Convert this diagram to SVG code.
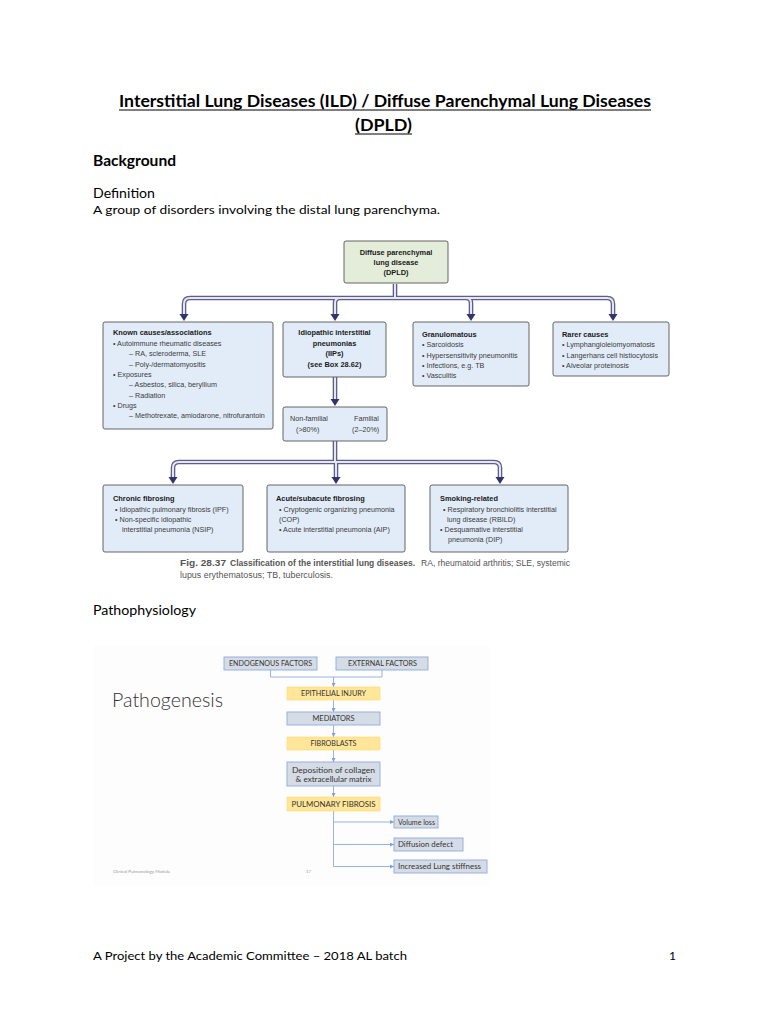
<svg xmlns="http://www.w3.org/2000/svg" width="768" height="1024" viewBox="0 0 768 1024">
<style>
.doc{font-family:Lato,"Open Sans","Liberation Sans",sans-serif;fill:#000}
.bx{fill:#e2ecf8;stroke:#555;stroke-width:0.9}
.dx{fill:#e4edda;stroke:#555;stroke-width:0.9}
.h{font-family:"Liberation Sans",Arial,sans-serif;font-weight:bold;font-size:7.4px;fill:#1a1a1a}
.t{font-family:"Liberation Sans",Arial,sans-serif;font-size:7.2px;fill:#3a3a3a}
.tubeO{fill:none;stroke:#5e5e8c;stroke-width:4.6}
.tubeI{fill:none;stroke:#e6e6f0;stroke-width:2}
.ah{fill:#33336e}
.cap{font-family:"Liberation Sans",Arial,sans-serif;font-size:8.5px;fill:#555}
.sg{fill:#d6dce5;stroke:#8eaadb;stroke-width:0.9}
.sy{fill:#ffe699;stroke:#ffd966;stroke-width:0.6}
.st{font-family:Lato,"Open Sans","Liberation Sans",sans-serif;font-size:6.6px;fill:#333}
.sl{fill:none;stroke:#8eaadb;stroke-width:0.9}
</style>
<defs>
<marker id="sa" markerWidth="4" markerHeight="4" refX="4" refY="2" orient="auto" markerUnits="userSpaceOnUse"><path d="M0,0 L4,2 L0,4z" fill="#7f9fd6"/></marker>
</defs>
<rect width="768" height="1024" fill="#fff"/>

<g id="header">
<text class="doc" x="385" y="107" text-anchor="middle" font-size="17" font-weight="bold" textLength="532" lengthAdjust="spacingAndGlyphs">Interstitial Lung Diseases (ILD) / Diffuse Parenchymal Lung Diseases</text>
<line x1="119" y1="110" x2="651" y2="110" stroke="#000" stroke-width="1.1"/>
<text class="doc" x="383.5" y="131" text-anchor="middle" font-size="17" font-weight="bold" textLength="57" lengthAdjust="spacingAndGlyphs">(DPLD)</text>
<line x1="355" y1="134" x2="412" y2="134" stroke="#000" stroke-width="1.1"/>
<text class="doc" x="93" y="166" font-size="15" font-weight="bold" textLength="83" lengthAdjust="spacingAndGlyphs">Background</text>
<text class="doc" x="93" y="198" font-size="14" textLength="62" lengthAdjust="spacingAndGlyphs">Definition</text>
<text class="doc" x="93" y="214" font-size="12" textLength="347" lengthAdjust="spacingAndGlyphs">A group of disorders involving the distal lung parenchyma.</text>
</g>

<g id="connectors">
<path class="tubeO" d="M395,284 V298 M184,316 V304 Q184,298 190,298 H607 Q613,298 613,304 V316 M335,316 V303 Q335,298 340,298 M471,316 V303 Q471,298 466,298"/>
<path class="tubeI" d="M395,284 V298 M184,316 V304 Q184,298 190,298 H607 Q613,298 613,304 V316 M335,316 V303 Q335,298 340,298 M471,316 V303 Q471,298 466,298"/>
<path class="tubeO" d="M335,377 V401"/>
<path class="tubeI" d="M335,377 V401"/>
<path class="tubeO" d="M335,441 V462 M173,479 V468 Q173,462 179,462 H494 Q500,462 500,468 V479 M336,462 V479"/>
<path class="tubeI" d="M335,441 V462 M173,479 V468 Q173,462 179,462 H494 Q500,462 500,468 V479 M336,462 V479"/>
<polygon class="ah" points="179.5,314 188.5,314 184,321"/>
<polygon class="ah" points="330.5,314 339.5,314 335,321"/>
<polygon class="ah" points="466.5,314 475.5,314 471,321"/>
<polygon class="ah" points="608.5,314 617.5,314 613,321"/>
<polygon class="ah" points="330.5,399 339.5,399 335,406"/>
<polygon class="ah" points="168.5,477 177.5,477 173,484"/>
<polygon class="ah" points="331.5,477 340.5,477 336,484"/>
<polygon class="ah" points="495.5,477 504.5,477 500,484"/>
</g>

<g id="dpld">
<rect class="dx" x="344" y="241" width="104" height="42" rx="2"/>
<text class="h" x="396" y="255" text-anchor="middle">Diffuse parenchymal</text>
<text class="h" x="396" y="265" text-anchor="middle">lung disease</text>
<text class="h" x="396" y="275" text-anchor="middle">(DPLD)</text>
</g>

<g id="known">
<rect class="bx" x="103" y="322" width="170" height="107" rx="2"/>
<text class="h" x="113" y="335">Known causes/associations</text>
<text class="t" x="113" y="345.5">• Autoimmune rheumatic diseases</text>
<text class="t" x="129" y="356">– RA, scleroderma, SLE</text>
<text class="t" x="129" y="366.5">– Poly-/dermatomyositis</text>
<text class="t" x="113" y="376.5">• Exposures</text>
<text class="t" x="129" y="387">– Asbestos, silica, beryllium</text>
<text class="t" x="129" y="397.5">– Radiation</text>
<text class="t" x="113" y="407.5">• Drugs</text>
<text class="t" x="129" y="418">– Methotrexate, amiodarone, nitrofurantoin</text>
</g>

<g id="iips">
<rect class="bx" x="283" y="322" width="103" height="55" rx="2"/>
<text class="h" x="334.5" y="335" text-anchor="middle">Idiopathic interstitial</text>
<text class="h" x="334.5" y="345.5" text-anchor="middle">pneumonias</text>
<text class="h" x="334.5" y="356" text-anchor="middle">(IIPs)</text>
<text class="h" x="334.5" y="366.5" text-anchor="middle">(see Box 28.62)</text>
</g>

<g id="familial">
<rect class="bx" x="283" y="407" width="104" height="34" rx="2"/>
<text class="t" x="290" y="421">Non-familial</text>
<text class="t" x="296" y="431.5">(&gt;80%)</text>
<text class="t" x="354" y="421">Familial</text>
<text class="t" x="352" y="431.5">(2–20%)</text>
</g>

<g id="granulomatous">
<rect class="bx" x="413" y="322" width="116" height="64" rx="2"/>
<text class="h" x="422" y="337">Granulomatous</text>
<text class="t" x="422" y="347">• Sarcoidosis</text>
<text class="t" x="422" y="357.5">• Hypersensitivity pneumonitis</text>
<text class="t" x="422" y="368">• Infections, e.g. TB</text>
<text class="t" x="422" y="378">• Vasculitis</text>
</g>

<g id="rarer">
<rect class="bx" x="553" y="322" width="116" height="54" rx="2"/>
<text class="h" x="562" y="336.5">Rarer causes</text>
<text class="t" x="562" y="347">• Lymphangioleiomyomatosis</text>
<text class="t" x="562" y="357.5">• Langerhans cell histiocytosis</text>
<text class="t" x="562" y="368">• Alveolar proteinosis</text>
</g>

<g id="chronic">
<rect class="bx" x="103" y="485" width="140" height="67" rx="2"/>
<text class="h" x="113" y="500.5">Chronic fibrosing</text>
<text class="t" x="115" y="511.5">• Idiopathic pulmonary fibrosis (IPF)</text>
<text class="t" x="115" y="521.5">• Non-specific idiopathic</text>
<text class="t" x="122" y="532">interstitial pneumonia (NSIP)</text>
</g>

<g id="acute">
<rect class="bx" x="267" y="485" width="138" height="67" rx="2"/>
<text class="h" x="276" y="500.5">Acute/subacute fibrosing</text>
<text class="t" x="279" y="511.5">• Cryptogenic organizing pneumonia</text>
<text class="t" x="279" y="521.5">(COP)</text>
<text class="t" x="279" y="532">• Acute interstitial pneumonia (AIP)</text>
</g>

<g id="smoking">
<rect class="bx" x="430" y="485" width="138" height="67" rx="2"/>
<text class="h" x="440" y="500.5">Smoking-related</text>
<text class="t" x="443" y="511.5">• Respiratory bronchiolitis interstitial</text>
<text class="t" x="447" y="521.5">lung disease (RBILD)</text>
<text class="t" x="440" y="532">• Desquamative interstitial</text>
<text class="t" x="448" y="542">pneumonia (DIP)</text>
</g>

<g id="caption">
<text class="cap" x="180" y="565.5" font-weight="bold" fill="#2f6db5" font-size="10" textLength="46" lengthAdjust="spacingAndGlyphs">Fig. 28.37</text>
<text class="cap" x="230" y="565.5" font-weight="bold" textLength="185" lengthAdjust="spacingAndGlyphs">Classification of the interstitial lung diseases.</text>
<text class="cap" x="421" y="565.5" textLength="149" lengthAdjust="spacingAndGlyphs">RA, rheumatoid arthritis; SLE, systemic</text>
<text class="cap" x="180" y="577.5" textLength="153" lengthAdjust="spacingAndGlyphs">lupus erythematosus; TB, tuberculosis.</text>
</g>

<text class="doc" x="93" y="615" font-size="14" textLength="103" lengthAdjust="spacingAndGlyphs">Pathophysiology</text>

<g id="slide">
<rect x="93" y="646" width="397" height="240" fill="#fdfdfd"/>
<text x="112" y="707" font-family="Lato,'Open Sans','Liberation Sans',sans-serif" font-weight="300" font-size="20" fill="#333" textLength="111" lengthAdjust="spacingAndGlyphs">Pathogenesis</text>
<text x="113" y="873" font-family="Lato,'Liberation Sans',sans-serif" font-size="4.5" fill="#9a9a9a">Clinical Pulmonology Module</text>
<text x="306" y="873" font-family="Lato,'Liberation Sans',sans-serif" font-size="4.5" fill="#9a9a9a">17</text>
</g>

<g id="slide-connectors">
<path class="sl" d="M270.5,670 V677 H382 V670"/>
<path class="sl" d="M333.5,677 V687" marker-end="url(#sa)"/>
<path class="sl" d="M333.5,700 V712" marker-end="url(#sa)"/>
<path class="sl" d="M333.5,725 V737" marker-end="url(#sa)"/>
<path class="sl" d="M333.5,750 V762" marker-end="url(#sa)"/>
<path class="sl" d="M333.5,786 V797" marker-end="url(#sa)"/>
<path class="sl" d="M333.5,811 V866.5"/>
<path class="sl" d="M333.5,822 H394" marker-end="url(#sa)"/>
<path class="sl" d="M333.5,844.5 H394" marker-end="url(#sa)"/>
<path class="sl" d="M333.5,866.5 H394" marker-end="url(#sa)"/>
</g>

<g id="endogenous"><rect class="sg" x="224" y="657" width="93" height="13"/><text class="st" x="270.5" y="666" text-anchor="middle" textLength="83" lengthAdjust="spacingAndGlyphs">ENDOGENOUS FACTORS</text></g>
<g id="external"><rect class="sg" x="336" y="657" width="92" height="13"/><text class="st" x="382.5" y="666" text-anchor="middle" textLength="69" lengthAdjust="spacingAndGlyphs">EXTERNAL FACTORS</text></g>
<g id="epithelial"><rect class="sy" x="287" y="687" width="93" height="13"/><text class="st" x="333.5" y="696" text-anchor="middle" textLength="65" lengthAdjust="spacingAndGlyphs">EPITHELIAL INJURY</text></g>
<g id="mediators"><rect class="sg" x="287" y="712" width="93" height="13"/><text class="st" x="333.5" y="721" text-anchor="middle" textLength="42" lengthAdjust="spacingAndGlyphs">MEDIATORS</text></g>
<g id="fibroblasts"><rect class="sy" x="287" y="737" width="93" height="13"/><text class="st" x="333.5" y="746" text-anchor="middle" textLength="46" lengthAdjust="spacingAndGlyphs">FIBROBLASTS</text></g>
<g id="deposition"><rect class="sg" x="287" y="762" width="93" height="24"/><text class="st" x="333.5" y="773" text-anchor="middle" textLength="83" lengthAdjust="spacingAndGlyphs">Deposition of collagen</text><text class="st" x="333.5" y="781.5" text-anchor="middle" textLength="76" lengthAdjust="spacingAndGlyphs">&amp; extracellular matrix</text></g>
<g id="pulmonary"><rect class="sy" x="287" y="797" width="93" height="14"/><text class="st" x="333.5" y="806.5" text-anchor="middle" textLength="84" lengthAdjust="spacingAndGlyphs">PULMONARY FIBROSIS</text></g>
<g id="volume"><rect class="sg" x="394" y="816" width="44" height="12"/><text class="st" x="398" y="824.5" textLength="37" lengthAdjust="spacingAndGlyphs">Volume loss</text></g>
<g id="diffusion"><rect class="sg" x="394" y="838" width="69" height="13"/><text class="st" x="398" y="847" textLength="55" lengthAdjust="spacingAndGlyphs">Diffusion defect</text></g>
<g id="stiffness"><rect class="sg" x="394" y="860" width="93" height="13"/><text class="st" x="398" y="869" textLength="83" lengthAdjust="spacingAndGlyphs">Increased Lung stiffness</text></g>

<g id="footer">
<text class="doc" x="93" y="960" font-size="12" textLength="314" lengthAdjust="spacingAndGlyphs">A Project by the Academic Committee – 2018 AL batch</text>
<text class="doc" x="669" y="960" font-size="12">1</text>
</g>
</svg>
